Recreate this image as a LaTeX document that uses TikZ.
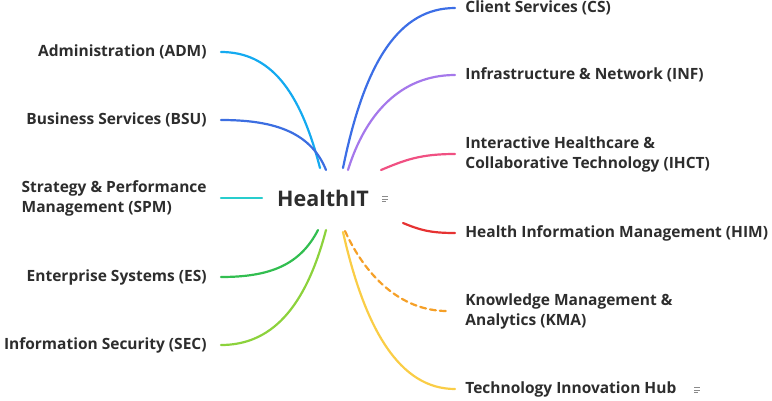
\documentclass[tikz,border=0pt]{standalone}
\usepackage{fontspec}
\setmainfont{Open Sans}
\definecolor{cADM}{RGB}{20,170,240}
\definecolor{cBSU}{RGB}{60,110,225}
\definecolor{cSPM}{RGB}{40,205,205}
\definecolor{cES}{RGB}{50,190,80}
\definecolor{cSEC}{RGB}{140,210,60}
\definecolor{cCS}{RGB}{60,110,230}
\definecolor{cINF}{RGB}{165,120,235}
\definecolor{cIHCT}{RGB}{240,80,130}
\definecolor{cHIM}{RGB}{230,50,50}
\definecolor{cKMA}{RGB}{245,160,40}
\definecolor{cHUB}{RGB}{250,205,70}
\definecolor{txt}{RGB}{45,45,45}
\tikzset{every picture/.style={line width=0.75pt},
  lbl/.style={text=txt,font=\fontsize{15.5}{20}\selectfont\bfseries,align=left,inner sep=0pt},
  branch/.style={line width=2.2pt,line cap=round},
  noteicon/.style={minimum width=6pt,minimum height=5pt,inner sep=0pt,
    path picture={\draw[txt!55,line width=0.7pt] (path picture bounding box.north west) -- (path picture bounding box.north east)
      ([yshift=-2.5pt]path picture bounding box.north west) -- ([yshift=-2.5pt]path picture bounding box.north east)
      (path picture bounding box.south west) -- ([xshift=-2pt]path picture bounding box.south east);}}}
\begin{document}
\begin{tikzpicture}[x=1pt,y=-1pt]
\useasboundingbox (0,0) rectangle (772,400);

% Central topic
\node [text=txt,font=\fontsize{21.5}{24}\selectfont\bfseries] (root) at (323,198) {HealthIT};
\node [noteicon] (note) at (385,199) {};

% Left labels
\node [lbl,anchor=east] (adm) at (207,52) {Administration (ADM)};
\node [lbl,anchor=east] (bsu) at (207,120) {Business Services (BSU)};
\node [lbl,anchor=east] (spm) at (207,198) {Strategy \& Performance\\Management (SPM)};
\node [lbl,anchor=east] (es) at (207,277) {Enterprise Systems (ES)};
\node [lbl,anchor=east] (sec) at (207,345) {Information Security (SEC)};

% Right labels
\node [lbl,anchor=west] (cs) at (465,8) {Client Services (CS)};
\node [lbl,anchor=west] (inf) at (465,75) {Infrastructure \& Network (INF)};
\node [lbl,anchor=west] (ihct) at (465,154) {Interactive Healthcare \&\\Collaborative Technology (IHCT)};
\node [lbl,anchor=west] (him) at (465,233) {Health Information Management (HIM)};
\node [lbl,anchor=west] (kma) at (465,311) {Knowledge Management \&\\Analytics (KMA)};
\node [lbl,anchor=west] (hub) at (465,389) {Technology Innovation Hub};
\node [noteicon] (hubnote) at (697,390) {};

% Branch ends
\coordinate (sADM) at (320,168);
\coordinate (sBSU) at (326,170);
\coordinate (sSPM) at (262,198);
\coordinate (sES) at (318,230);
\coordinate (sSEC) at (326,230);
\coordinate (sCS) at (343,168);
\coordinate (sINF) at (348,170);
\coordinate (sIHCT) at (381,170);
\coordinate (sHIM) at (403,223);
\coordinate (sKMA) at (345,231);
\coordinate (sHUB) at (343,232);

% Branches
\draw [branch,cADM] (sADM) .. controls (300,90) and (270,52) .. ([xshift=14pt]adm.east);
\draw [branch,cBSU] (sBSU) .. controls (310,130) and (270,120) .. ([xshift=14pt]bsu.east);
\draw [branch,cSPM] (sSPM) -- ([xshift=14pt]spm.east);
\draw [branch,cES] (sES) .. controls (300,265) and (270,277) .. ([xshift=14pt]es.east);
\draw [branch,cSEC] (sSEC) .. controls (305,310) and (270,345) .. ([xshift=14pt]sec.east);
\draw [branch,cCS] (sCS) .. controls (365,60) and (400,8) .. ([xshift=-10pt]cs.west);
\draw [branch,cINF] (sINF) .. controls (365,115) and (400,75) .. ([xshift=-10pt]inf.west);
\draw [branch,cIHCT] (sIHCT) .. controls (405,160) and (420,154) .. ([xshift=-10pt]ihct.west);
\draw [branch,cHIM] (sHIM) .. controls (420,230) and (430,233) .. ([xshift=-10pt]him.west);
\draw [branch,cKMA,dash pattern=on 6pt off 4pt] (sKMA) .. controls (365,275) and (400,311) .. ([xshift=-18pt]kma.west);
\draw [branch,cHUB] (sHUB) .. controls (365,330) and (400,389) .. ([xshift=-10pt]hub.west);
\end{tikzpicture}
\end{document}
